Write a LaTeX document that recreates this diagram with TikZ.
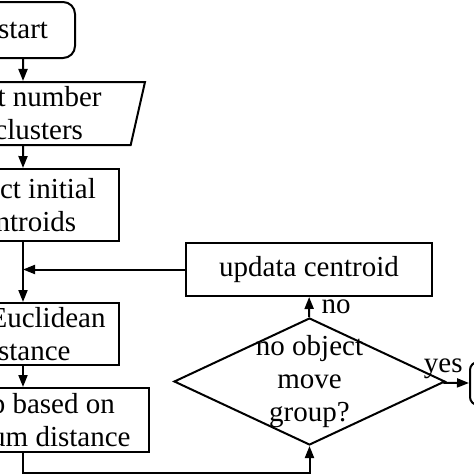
\documentclass[tikz,border=0pt]{standalone}
\usepackage{fontspec}
\setmainfont{Liberation Serif}
\usetikzlibrary{arrows.meta,shapes.geometric}

\begin{document}
\begin{tikzpicture}[->,>={Triangle[length=12pt,width=9pt]},line width=2pt,x=1pt,y=-1pt,
  font=\fontsize{29}{33}\selectfont,
  box/.style={rectangle,draw,align=center,inner sep=0pt},
  term/.style={box,rounded corners=12pt},
  io/.style={trapezium,draw,align=center,trapezium left angle=75,trapezium right angle=105,trapezium stretches body,inner sep=0pt},
  decision/.style={diamond,draw,inner sep=0pt}]
    \useasboundingbox (0,0) rectangle (474,474);
    \clip (0,0) rectangle (474,474);

    \node[term,minimum width=104pt,minimum height=56pt] (start) at (23,30) {start};
    \node[io,minimum width=244pt,minimum height=63pt] (input) at (23,113.5) {Input number\\of clusters};
    \node[box,minimum width=192pt,minimum height=72pt] (select) at (23,205) {Select initial\\centroids};
    \node[box,minimum width=192pt,minimum height=62pt] (dist) at (23,334) {Get Euclidean\\distance};
    \node[box,minimum width=252pt,minimum height=64pt] (group) at (23,420) {Group based on\\minimum distance};
    \node[decision,minimum width=271pt,minimum height=127pt,
      label={[align=center]center:{no object\\move\\group?}}] (check) at (309.5,381.5) {};
    \node[box,minimum width=246pt,minimum height=53pt] (update) at (309,269.5) {updata centroid};
    \node[term,rounded corners=8pt,minimum width=100pt,minimum height=43pt] (stop) at (520,383.5) {};

    \draw (start) -- (input);
    \draw (input) -- (select);
    \draw (select) -- (dist);
    \draw (update) -- (update -| select);
    \draw (dist) -- (group);
    \draw (group.south) -- ++(0,20) -| (check.south);
    \draw (check) -- node[right=8pt] {no} (update);
    \draw (check) -- node[pos=0,above] {yes} (stop);
  \end{tikzpicture}
\end{document}
